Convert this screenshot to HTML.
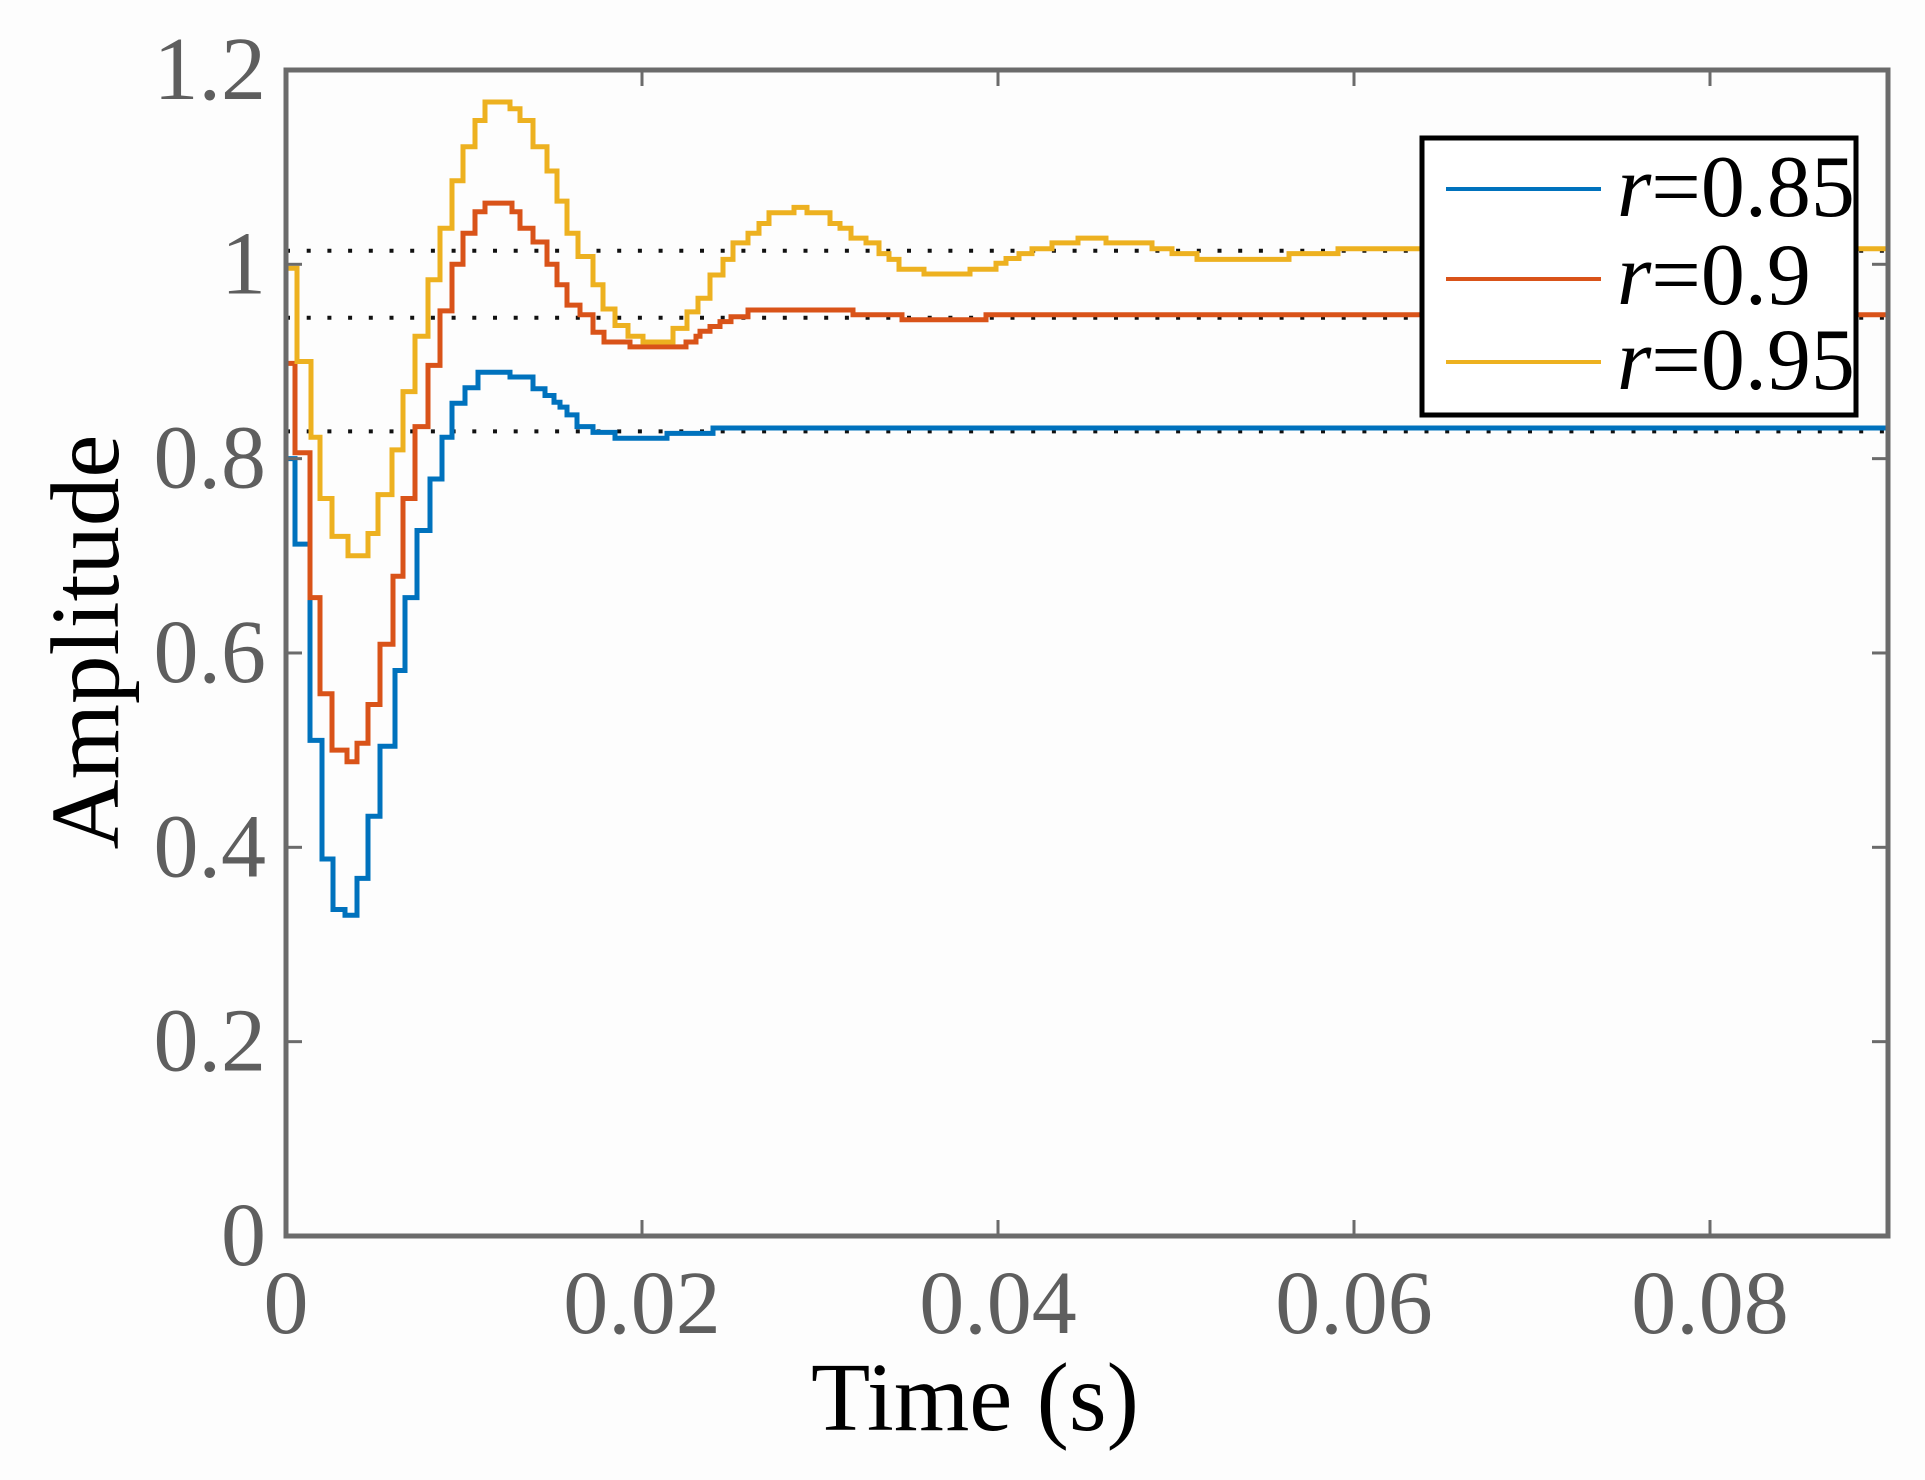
<!DOCTYPE html>
<html><head><meta charset="utf-8"><style>
html,body{margin:0;padding:0;background:#fdfdfd;}
svg{display:block;}
</style></head><body>
<svg id="s" width="1925" height="1480" viewBox="0 0 1925 1480" xmlns="http://www.w3.org/2000/svg">
<rect width="1925" height="1480" fill="#fdfdfd"/>
<g id="dots" stroke="#111" stroke-width="4" stroke-dasharray="4 16.7"></g>
<g id="series" fill="none" stroke-width="5" stroke-linejoin="miter"></g>
<g id="ticks" stroke="#6b6b6b" stroke-width="3"></g>
<rect x="286" y="70" width="1602" height="1166" fill="none" stroke="#6b6b6b" stroke-width="5"/>
<g font-family="Liberation Serif, serif" font-size="90" fill="#5e5e5e" text-anchor="end" id="ylab"></g>
<g font-family="Liberation Serif, serif" font-size="90" fill="#5e5e5e" text-anchor="middle" id="xlab"></g>
<text x="975" y="1430" font-family="Liberation Serif, serif" font-size="97" fill="#000" text-anchor="middle">Time (s)</text>
<text transform="translate(118,642) rotate(-90)" font-family="Liberation Serif, serif" font-size="97" fill="#000" text-anchor="middle">Amplitude</text>
<rect x="1422" y="138" width="434" height="277" fill="#fff" stroke="#000" stroke-width="5"/>
<line x1="1446" y1="189" x2="1601" y2="189" stroke="#0072BD" stroke-width="4"/>
<line x1="1446" y1="279" x2="1601" y2="279" stroke="#D95319" stroke-width="4"/>
<line x1="1446" y1="362" x2="1601" y2="362" stroke="#EDB120" stroke-width="4"/>
<g font-family="Liberation Serif, serif" font-size="88" fill="#000">
<text x="1617" y="216"><tspan font-style="italic">r</tspan>=0.85</text>
<text x="1617" y="304"><tspan font-style="italic">r</tspan>=0.9</text>
<text x="1617" y="389"><tspan font-style="italic">r</tspan>=0.95</text>
</g>
</svg>
<script>
var X0=286,W=1602,Y0=1236,K=971.7,NS="http://www.w3.org/2000/svg";
function Y(v){return Y0-v*K;}
function el(p,n,a){var e=document.createElementNS(NS,n);for(var k in a)e.setAttribute(k,a[k]);p.appendChild(e);return e;}
var dots=document.getElementById('dots');
[1.014,0.945,0.828].forEach(function(v){el(dots,'line',{x1:X0,x2:X0+W,y1:Y(v),y2:Y(v)});});
var blue=[[0,.80],[9,.712],[24,.51],[36,.388],[47,.336],[59,.33],[71,.368],[82,.432],[94,.504],[109,.582],[119,.657],[131,.726],[144,.779],[156,.822],[166,.857],[179,.873],[192,.889],[224,.884],[247,.872],[259,.865],[268,.858],[274,.853],[281,.845],[291,.833],[307,.827],[329,.821],[381,.826],[427,.8315]];
var red=[[0,.898],[9,.806],[24,.657],[34,.558],[46,.5],[61,.488],[71,.507],[82,.547],[94,.609],[107,.679],[117,.759],[129,.833],[142,.896],[154,.952],[166,1.0],[177,1.032],[189,1.054],[199,1.063],[226,1.054],[234,1.037],[247,1.023],[261,1.0],[271,.979],[281,.958],[294,.948],[307,.93],[318,.92],[344,.915],[389,.915],[400,.92],[410,.926],[414,.931],[424,.936],[434,.941],[445,.946],[462,.953],[567,.948],[616,.943],[700,.948]];
var yel=[[0,.996],[11,.9],[25,.822],[34,.759],[46,.72],[62,.70],[82,.723],[92,.763],[106,.809],[117,.869],[129,.926],[142,.984],[154,1.037],[166,1.086],[177,1.121],[189,1.148],[199,1.167],[224,1.16],[234,1.148],[247,1.121],[261,1.096],[271,1.065],[281,1.032],[292,1.008],[307,.979],[317,.954],[329,.937],[342,.926],[357,.92],[387,.934],[401,.951],[412,.965],[424,.989],[437,1.005],[447,1.022],[462,1.032],[473,1.042],[483,1.053],[508,1.0586],[521,1.053],[544,1.042],[554,1.037],[565,1.027],[580,1.022],[593,1.011],[603,1.005],[613,.995],[638,.99],[684,.995],[710,1.001],[720,1.006],[733,1.011],[746,1.016],[766,1.022],[792,1.027],[820,1.022],[866,1.016],[886,1.011],[911,1.005],[1003,1.011],[1052,1.016]];
var g=document.getElementById('series');
function path(d,c){var s='M'+X0+' '+Y(d[0][1]).toFixed(1);for(var i=1;i<d.length;i++){s+=' H'+(X0+d[i][0])+' V'+Y(d[i][1]).toFixed(1);}s+=' H'+(X0+W);el(g,'path',{d:s,stroke:c});}
path(blue,'#0072BD');path(red,'#D95319');path(yel,'#EDB120');
var t=document.getElementById('ticks'),yl=document.getElementById('ylab'),xl=document.getElementById('xlab');
var ylabs=['0','0.2','0.4','0.6','0.8','1','1.2'];
for(var i=0;i<=6;i++){var y=Y(i*0.2);
 el(t,'line',{x1:X0,x2:X0+16,y1:y,y2:y});el(t,'line',{x1:X0+W-16,x2:X0+W,y1:y,y2:y});
 var tx=el(yl,'text',{x:266,y:y+29});tx.textContent=ylabs[i];}
var xlabs=['0','0.02','0.04','0.06','0.08'];
for(var j=0;j<=4;j++){var x=X0+j*W*0.02/0.09;
 el(t,'line',{x1:x,x2:x,y1:Y0,y2:Y0-16});el(t,'line',{x1:x,x2:x,y1:70,y2:86});
 var tt=el(xl,'text',{x:x,y:1333});tt.textContent=xlabs[j];}
</script>
</body></html>
